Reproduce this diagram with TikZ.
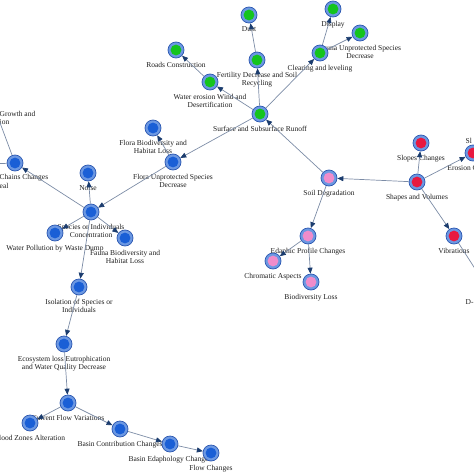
\documentclass[tikz,border=0pt]{standalone}
\usepackage{fontspec}
\setmainfont{Liberation Serif}
\usetikzlibrary{arrows.meta}
\definecolor{bdr}{HTML}{2A56B0}
\definecolor{ring}{HTML}{6C98E2}
\definecolor{gfill}{HTML}{14C41E}
\definecolor{bfill}{HTML}{1A5FD6}
\definecolor{pfill}{HTML}{F08CCB}
\definecolor{rfill}{HTML}{E81940}
\definecolor{edgec}{HTML}{7C8CA6}
\definecolor{tipc}{HTML}{1B3C6E}
\definecolor{txt}{HTML}{1E1E1E}
\tikzset{
  nd/.style={circle, minimum size=16pt, inner sep=0pt, draw=bdr, line width=0.7pt, fill=ring,
    path picture={\fill[#1] (path picture bounding box.center) circle (5.4pt);}},
  lab/.style={font=\fontsize{7.5}{8.5}\selectfont, text=txt, align=center, inner sep=0.5pt},
  every label/.style={lab},
  label distance=3pt,
  con/.style={draw=edgec, line width=0.7pt, -{Triangle[length=6pt,width=5pt,color=tipc]}},
  plain/.style={draw=edgec, line width=0.7pt}
}
\begin{document}
\begin{tikzpicture}[x=1pt,y=-1pt]
\useasboundingbox (0,0) rectangle (474,474);
\clip (0,0) rectangle (474,474);
% stray labels of nodes outside the picture
\node[lab, anchor=west] (tg1) at (-1,114) {Growth and};
\node[lab, anchor=west] (tg2) at (-1,122) {ion};
\node[lab, anchor=west] (tfc1) at (-1,178) {Chains Changes};
\node[lab, anchor=west] (tfc2) at (-1,186) {eal};
\node[lab, anchor=west] (tsl) at (465,141) {Sl};
\node[lab, anchor=west] (tdd) at (465,302) {D-};
% green
\node[nd=gfill, label={below:Dust}] (dust) at (249,15) {};
\node[nd=gfill, label={below:Display}] (disp) at (333,9) {};
\node[nd=gfill, label={below:Fauna Unprotected Species\\Decrease}] (fauna) at (360,33) {};
\node[nd=gfill, label={below:Clearing and leveling}] (clear) at (320,53) {};
\node[nd=gfill, label={below:Fertility Decrease and Soil\\Recycling}] (fert) at (257,60) {};
\node[nd=gfill, label={below:Roads Construction}] (roads) at (176,50) {};
\node[nd=gfill, label={below:Water erosion Wind and\\Desertification}] (water) at (210,82) {};
\node[nd=gfill, label={below:Surface and Subsurface Runoff}] (surf) at (260,114) {};
% blue
\node[nd=bfill, label={below:Flora Biodiversity and\\Habitat Loss}] (florab) at (153,128) {};
\node[nd=bfill, label={below:Flora Unprotected Species\\Decrease}] (floraus) at (173,162) {};
\node[nd=bfill, label={below:Noise}] (noise) at (88,173) {};
\node[nd=bfill] (food) at (15,163) {};
\node[nd=bfill, label={below:Species or Individuals\\Concentration}] (spec) at (91,212) {};
\node[nd=bfill, label={below:Water Pollution by Waste Dump}] (wpol) at (55,233) {};
\node[nd=bfill, label={below:Fauna Biodiversity and\\Habitat Loss}] (faunab) at (125,238) {};
\node[nd=bfill, label={below:Isolation of Species or\\Individuals}] (iso) at (79,287) {};
\node[nd=bfill, label={below:Ecosystem loss Eutrophication\\and Water Quality Decrease}] (eco) at (64,344) {};
\node[nd=bfill, label={below:Current Flow Variations}] (cur) at (68,403) {};
\node[nd=bfill, label={below:Flood Zones Alteration}] (flood) at (30,423) {};
\node[nd=bfill, label={below:Basin Contribution Changes}] (bcon) at (120,429) {};
\node[nd=bfill, label={below:Basin Edaphology Changes}] (beda) at (170,444) {};
\node[nd=bfill, label={below:Flow Changes}] (flow) at (211,453) {};
% pink
\node[nd=pfill, label={below:Soil Degradation}] (soil) at (329,178) {};
\node[nd=pfill, label={below:Edaphic Profile Changes}] (eda) at (308,236) {};
\node[nd=pfill, label={below:Chromatic Aspects}] (chrom) at (273,261) {};
\node[nd=pfill, label={below:Biodiversity Loss}] (bio) at (311,282) {};
% red
\node[nd=rfill, label={below:Shapes and Volumes}] (shapes) at (417,182) {};
\node[nd=rfill, label={below:Slopes Changes}] (slopes) at (421,143) {};
\node[nd=rfill, label={below:Erosion Changes}] (eros) at (473,153) {};
\node[nd=rfill, label={below:Vibrations}] (vib) at (454,236) {};
% off-picture ends
\coordinate (offa) at (-4,112);
\coordinate (offb) at (-10,164);
\coordinate (offc) at (490,292);
% connectors
\draw[plain] (food) -- (offa);
\draw[plain] (food) -- (offb);
\draw[plain] (vib) -- (offc);
\draw[con] (surf) -- (water);
\draw[con] (water) -- (roads);
\draw[con] (surf) -- (fert);
\draw[con] (fert) -- (dust);
\draw[con] (surf) -- (clear);
\draw[con] (clear) -- (disp);
\draw[con] (clear) -- (fauna);
\draw[con] (surf) -- (floraus);
\draw[con] (soil) -- (surf);
\draw[con] (floraus) -- (florab);
\draw[con] (floraus) -- (spec);
\draw[con] (spec) -- (noise);
\draw[con] (spec) -- (wpol);
\draw[con] (spec) -- (faunab);
\draw[con] (spec) -- (food);
\draw[con] (spec) -- (iso);
\draw[con] (iso) -- (eco);
\draw[con] (eco) -- (cur);
\draw[con] (cur) -- (flood);
\draw[con] (cur) -- (bcon);
\draw[con] (bcon) -- (beda);
\draw[con] (beda) -- (flow);
\draw[con] (shapes) -- (soil);
\draw[con] (soil) -- (eda);
\draw[con] (eda) -- (chrom);
\draw[con] (eda) -- (bio);
\draw[con] (shapes) -- (slopes);
\draw[con] (shapes) -- (eros);
\draw[con] (shapes) -- (vib);
\end{tikzpicture}
\end{document}
